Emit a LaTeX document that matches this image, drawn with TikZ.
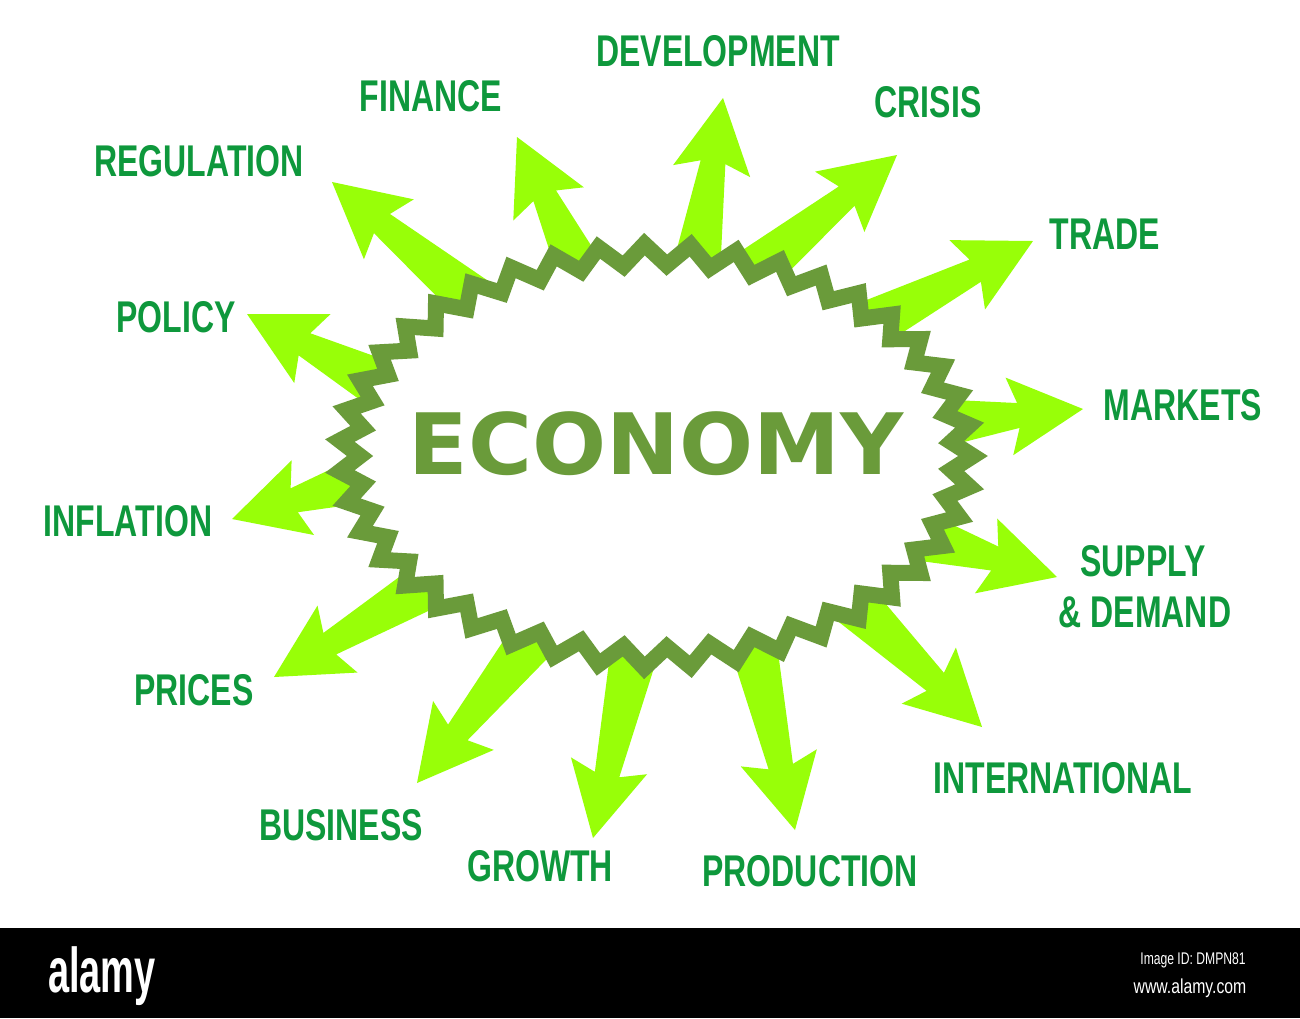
\documentclass[tikz,border=0pt]{standalone}
\usepackage{fontspec}
\usepackage{graphicx}
\setmainfont{Liberation Sans}
\newfontfamily\heavyfont{DejaVu Sans}
\usetikzlibrary{calc}
\definecolor{arrowgreen}{RGB}{152,255,8}
\definecolor{ziggreen}{RGB}{106,155,58}
\definecolor{labgreen}{RGB}{14,152,60}
\newcommand\lab[1]{\scalebox{0.72}[1]{#1}}
\newcommand\econarrow[3]{%
  \coordinate (#1-t) at #2;
  \coordinate (#1-b0) at #3;
  \coordinate (#1-b) at ($(#1-b0)!-0.7cm!(#1-t)$);
  \coordinate (#1-n) at ($(#1-t)!1.30cm!(#1-b)$);
  \coordinate (#1-h) at ($(#1-t)!1.48cm!(#1-b)$);
  \fill[arrowfill] ($(#1-b)!0.52cm!90:(#1-t)$) -- ($(#1-n)!0.25cm!90:(#1-t)$)
    -- ($(#1-h)!0.78cm!90:(#1-t)$) -- (#1-t) -- ($(#1-h)!0.78cm!-90:(#1-t)$)
    -- ($(#1-n)!0.25cm!-90:(#1-t)$) -- ($(#1-b)!0.52cm!-90:(#1-t)$) -- cycle;}
\tikzset{
  arrowfill/.style={fill=arrowgreen},
  zigline/.style={draw=ziggreen, line width=0.32cm, line join=miter, fill=white},
  lbl/.style={font=\bfseries\fontsize{25.3}{28}\selectfont, text=labgreen, inner sep=0pt},
  wm/.style={text=white, inner sep=0pt}
}
\begin{document}
\begin{tikzpicture}[x=0.02cm,y=-0.02cm]
\useasboundingbox (0,0) rectangle (1300,1018);
\fill[white] (0,0) rectangle (1300,1018);
% arrows
\econarrow{regulation}{(332,182)}{(463,291)}
\econarrow{finance}{(517,137)}{(575,260)}
\econarrow{development}{(723,98)}{(699,252)}
\econarrow{crisis}{(897,155)}{(771,258)}
\econarrow{trade}{(1033,241)}{(887,316)}
\econarrow{markets}{(1083,409)}{(963,421)}
\econarrow{supply}{(1057,577)}{(946,544)}
\econarrow{international}{(982,727)}{(866,615)}
\econarrow{production}{(795,830)}{(755,652)}
\econarrow{growth}{(593,838)}{(632,662)}
\econarrow{business}{(417,783)}{(525,649)}
\econarrow{prices}{(274,677)}{(418,591)}
\econarrow{inflation}{(232,519)}{(345,485)}
\econarrow{policy}{(247,314)}{(357,372)}
% zigzag ellipse
\path[zigline] (656+317,456) \foreach \i in {0,...,42}{
   -- ({656+296*cos((\i+0.5)*360/43)},{456+191*sin((\i+0.5)*360/43)})
   -- ({656+317*cos((\i+1)*360/43)},{456+212*sin((\i+1)*360/43)}) } -- cycle;
\node[font=\heavyfont\bfseries\fontsize{48.2}{50}\selectfont, text=ziggreen, inner sep=0pt] (eco) at (656,444) {\scalebox{1.03}[1]{ECONOMY}};
% labels
\node[lbl] (l-development) at (718,51) {\lab{DEVELOPMENT}};
\node[lbl] (l-finance) at (431,96) {\lab{FINANCE}};
\node[lbl] (l-crisis) at (928,102) {\lab{CRISIS}};
\node[lbl] (l-regulation) at (199,161) {\lab{REGULATION}};
\node[lbl] (l-trade) at (1105,234) {\lab{TRADE}};
\node[lbl] (l-policy) at (176,317) {\lab{POLICY}};
\node[lbl] (l-markets) at (1183,405) {\lab{MARKETS}};
\node[lbl] (l-inflation) at (128,521) {\lab{INFLATION}};
\node[lbl] (l-supply) at (1143,561) {\lab{SUPPLY}};
\node[lbl] (l-demand) at (1145,612) {\lab{\& DEMAND}};
\node[lbl] (l-prices) at (194,690) {\lab{PRICES}};
\node[lbl] (l-international) at (1063,778) {\lab{INTERNATIONAL}};
\node[lbl] (l-business) at (341,825) {\lab{BUSINESS}};
\node[lbl] (l-growth) at (540,866) {\lab{GROWTH}};
\node[lbl] (l-production) at (810,871) {\lab{PRODUCTION}};
% watermark bar
\fill[black] (0,928) rectangle (1300,1018);
\node[wm, anchor=base, font=\bfseries\fontsize{36}{38}\selectfont] (alamy) at (102,992) {\scalebox{0.6}[1]{alamy}};
\node[wm, font=\fontsize{9.6}{11}\selectfont] (imgid) at (1193,960) {\scalebox{0.72}[1]{Image ID: DMPN81}};
\node[wm, font=\fontsize{11.5}{13}\selectfont] (www) at (1190,988) {\scalebox{0.78}[1]{www.alamy.com}};
\end{tikzpicture}
\end{document}
